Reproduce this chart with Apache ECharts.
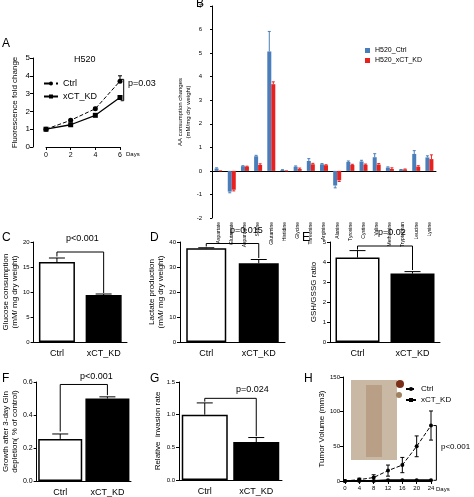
<!DOCTYPE html>
<html><head><meta charset="utf-8">
<script src="https://cdn.jsdelivr.net/npm/echarts@6/dist/echarts.min.js"></script>
<style>html,body{margin:0;padding:0;background:#fff}#c{width:474px;height:497px}</style>
</head><body><div id="c"></div>
<script>
// ---- Data ----
const daysA = [0, 2, 4, 6];
const ctrlA = [1.0, 1.5, 2.15, 3.7];
const ctrlAErr = [0.05, 0.06, 0.08, 0.3];
const kdA = [1.0, 1.25, 1.78, 2.78];
const kdAErr = [0.05, 0.06, 0.1, 0.06];

const aminoAcids = ['Aspartate','Glutamate','Asparagine','Serine','Glutamine','Histidine','Glycine','Threonine','Arginine','Alanine','Tyrosine','Cystine','Valine','Methionine','Tryptophan','Leucine','Lysine'];
const aaCtrl = [0.1,-0.88,0.2,0.62,5.07,0.04,0.18,0.42,0.28,-0.62,0.38,0.4,0.58,0.14,0.05,0.72,0.57];
const aaCtrlErr = [0.03,0.05,0.02,0.04,0.85,0.01,0.03,0.1,0.03,0.1,0.04,0.05,0.15,0.03,0.01,0.14,0.07];
const aaKD = [0.0,-0.8,0.18,0.25,3.68,0.0,0.08,0.28,0.24,-0.4,0.25,0.26,0.27,0.08,0.06,0.18,0.5];
const aaKDErr = [0.0,0.05,0.02,0.05,0.1,0.0,0.04,0.04,0.02,0.05,0.03,0.03,0.04,0.05,0.02,0.04,0.18];

const groups = ['Ctrl','xCT_KD'];
const glucose = [16.0, 9.4], glucoseErr = [0.8, 0.2];
const lactate = [37.5, 31.5], lactateErr = [0.2, 1.5];
const gsh = [4.22, 3.42], gshErr = [0.35, 0.1];
const glnGrowth = [0.255, 0.5], glnGrowthErr = [0.03, 0.01];
const invasion = [1.0, 0.58], invasionErr = [0.18, 0.07];

const daysH = [0, 4, 8, 12, 16, 20, 24];
const tumorCtrl = [0, 2, 5, 15, 23, 50, 80];
const tumorCtrlErr = [1, 2, 4, 8, 11, 15, 21];
const tumorKD = [0, 0, 0, 1, 1, 1, 1];
const tumorKDErr = [0.5, 0.5, 0.5, 1, 1, 1, 1];

// ---- Chart ----
const FF = 'Liberation Sans';
const chart = echarts.init(document.getElementById('c'));
const grids = [], xAxes = [], yAxes = [], series = [], graphics = [];
const axisLine = {show:true, onZero:false, lineStyle:{color:'#000', width:1}};

function errRender(offsetPx, capW, color) {
  return function(params, api) {
    const x = api.value(0), v = api.value(1), e = api.value(2);
    const p0 = api.coord([x, v]);
    const dir = v < 0 ? -1 : 1;
    const p1 = api.coord([x, v + dir * e]);
    const cx = p0[0] + offsetPx;
    const st = {stroke: color, lineWidth: 1};
    return {type:'group', children:[
      {type:'line', shape:{x1:cx, y1:p0[1], x2:cx, y2:p1[1]}, style:st},
      {type:'line', shape:{x1:cx-capW, y1:p1[1], x2:cx+capW, y2:p1[1]}, style:st}
    ]};
  };
}
function bracketRender(params, api) {
  const a = api.coord([api.value(0), api.value(1)]);
  const b = api.coord([api.value(0), api.value(4)]);
  const c = api.coord([api.value(2), api.value(4)]);
  const d = api.coord([api.value(2), api.value(3)]);
  return {type:'polyline', shape:{points:[a,b,c,d]}, style:{stroke:'#000', fill:null, lineWidth:1}};
}
function vBracketRender(params, api) {
  const lo = api.coord([api.value(0), api.value(1)]);
  const hi = api.coord([api.value(0), api.value(2)]);
  const dx = api.value(3);
  return {type:'polyline', shape:{points:[[lo[0]-dx, lo[1]],[lo[0], lo[1]],[hi[0], hi[1]],[hi[0]-dx, hi[1]]]}, style:{stroke:'#000', fill:null, lineWidth:1}};
}

// Panel A
grids.push({left:46, top:58, width:74, height:89});
xAxes.push({gridIndex:0, type:'value', min:0, max:6, interval:2, axisLine, axisTick:{show:true,length:3,lineStyle:{color:'#000'}}, splitLine:{show:false}, axisLabel:{fontSize:7, color:'#000', fontFamily:FF, margin:5}});
yAxes.push({gridIndex:0, type:'value', min:0, max:5, interval:1, offset:13, axisLine, axisTick:{show:true,length:3,lineStyle:{color:'#000'}}, splitLine:{show:false}, axisLabel:{fontSize:8, color:'#000', fontFamily:FF, margin:3}, name:'Fluorescence fold change', nameLocation:'middle', nameGap:14, nameTextStyle:{fontSize:8, fontFamily:FF, color:'#000'}});
series.push({type:'line', name:'Ctrl', xAxisIndex:0, yAxisIndex:0, data:daysA.map((d,i)=>[d,ctrlA[i]]), symbol:'circle', symbolSize:5, lineStyle:{type:'dashed', color:'#000', width:1}, itemStyle:{color:'#000'}});
series.push({type:'line', name:'xCT_KD', xAxisIndex:0, yAxisIndex:0, data:daysA.map((d,i)=>[d,kdA[i]]), symbol:'rect', symbolSize:5, lineStyle:{color:'#000', width:1.3}, itemStyle:{color:'#000'}});
series.push({type:'custom', xAxisIndex:0, yAxisIndex:0, renderItem:errRender(0,2,'#000'), data:daysA.map((d,i)=>[d,ctrlA[i],ctrlAErr[i]]), z:5});
series.push({type:'custom', xAxisIndex:0, yAxisIndex:0, renderItem:vBracketRender, data:[[6.3, 2.6, 3.8, 3]]});

// Panel B
grids.push({left:212, top:6, width:224, height:212});
xAxes.push({gridIndex:1, type:'category', data:aminoAcids, axisLine:{show:true, onZero:true, lineStyle:{color:'#000'}}, axisTick:{show:false}, axisLabel:{rotate:90, fontSize:5, color:'#000', fontFamily:FF, interval:0, margin:4}});
yAxes.push({gridIndex:1, type:'value', min:-2, max:7, interval:1, axisLine:{show:true, lineStyle:{color:'#000'}}, axisTick:{show:true, length:2, lineStyle:{color:'#000'}}, splitLine:{show:false}, axisLabel:{fontSize:6, color:'#000', fontFamily:FF, margin:10}, name:'AA consumption changes\n(mM/mg dry weight)', nameLocation:'middle', nameGap:16, nameTextStyle:{fontSize:6, fontFamily:FF, color:'#000', lineHeight:8}});
series.push({type:'bar', name:'H520_Ctrl', xAxisIndex:1, yAxisIndex:1, data:aaCtrl, barWidth:4, barGap:'0%', itemStyle:{color:'#4a7ebb'}});
series.push({type:'bar', name:'H520_xCT_KD', xAxisIndex:1, yAxisIndex:1, data:aaKD, barWidth:4, barGap:'0%', itemStyle:{color:'#e8201e'}});
series.push({type:'custom', xAxisIndex:1, yAxisIndex:1, renderItem:errRender(-2,1.5,'#4a7ebb'), data:aaCtrl.map((v,i)=>[i,v,aaCtrlErr[i]]), z:5});
series.push({type:'custom', xAxisIndex:1, yAxisIndex:1, renderItem:errRender(2,1.5,'#e8201e'), data:aaKD.map((v,i)=>[i,v,aaKDErr[i]]), z:5});

// Bar panels C-G
function barPanel(idx, g, vals, errs, max, interval, ytitle, barW, bracket, labelFmt, nameGap, lblSize) {
  grids.push(g);
  xAxes.push({gridIndex:idx, type:'category', data:groups, axisLine:{show:true, lineStyle:{color:'#000'}}, axisTick:{show:false}, axisLabel:{fontSize:9, color:'#000', fontFamily:FF, margin:7}});
  yAxes.push({gridIndex:idx, type:'value', min:0, max, interval, axisLine:{show:true, lineStyle:{color:'#000'}}, axisTick:{show:true, length:3, lineStyle:{color:'#000'}}, splitLine:{show:false}, axisLabel:{fontSize:lblSize||6, color:'#000', fontFamily:FF, margin:4, formatter:labelFmt}, name:ytitle, nameLocation:'middle', nameGap, nameTextStyle:{fontSize:8, fontFamily:FF, color:'#000', lineHeight:9}});
  series.push({type:'bar', xAxisIndex:idx, yAxisIndex:idx, barWidth:barW, data:[
    {value:vals[0], itemStyle:{color:'#fff', borderColor:'#000', borderWidth:1.5}},
    {value:vals[1], itemStyle:{color:'#000', borderColor:'#000', borderWidth:1.5}}]});
  series.push({type:'custom', xAxisIndex:idx, yAxisIndex:idx, renderItem:errRender(0,8,'#000'), data:vals.map((v,i)=>[i,v,errs[i]]), z:5});
  series.push({type:'custom', xAxisIndex:idx, yAxisIndex:idx, renderItem:bracketRender, data:[bracket], z:6});
}
barPanel(2, {left:32, top:242, width:95, height:100}, glucose, glucoseErr, 20, 5, 'Glucose consumption\n(mM/ mg dry weight)', 36, [0,17.1,1,9.8,18.0], null, 14);
barPanel(3, {left:180, top:242, width:105, height:100}, lactate, lactateErr, 40, 10, 'Lactate production\n(mM/ mg dry weight)', 40, [0,38.2,1,33.6,39.4], null, 14);
barPanel(4, {left:330, top:242, width:110, height:100}, gsh, gshErr, 5, 1, 'GSH/GSSG ratio', 44, [0,4.62,1,3.6,4.8], null, 10);
barPanel(5, {left:31, top:382, width:100, height:101}, glnGrowth, glnGrowthErr, 0.6, 0.2, 'Growth after 3-day Gln\ndepletion( % of control)', 44, [0,0.3,1,0.52,0.585], v=>v.toFixed(1), 17, 7);
barPanel(6, {left:179, top:382, width:103, height:98}, invasion, invasionErr, 1.5, 0.5, 'Relative  invasion rate', 46, [0,1.2,1,0.67,1.25], v=>v.toFixed(1), 14);

// Panel H
grids.push({left:345, top:377, width:86, height:104});
xAxes.push({gridIndex:7, type:'value', min:0, max:24, interval:4, axisLine, axisTick:{show:true,length:3,lineStyle:{color:'#000'}}, splitLine:{show:false}, axisLabel:{fontSize:6, color:'#000', fontFamily:FF, margin:4}});
yAxes.push({gridIndex:7, type:'value', min:0, max:150, interval:50, offset:2, axisLine, axisTick:{show:true,length:3,lineStyle:{color:'#000'}}, splitLine:{show:false}, axisLabel:{fontSize:6, color:'#000', fontFamily:FF, margin:3}, name:'Tumor Volume (mm3)', nameLocation:'middle', nameGap:14, nameTextStyle:{fontSize:8, fontFamily:FF, color:'#000'}});
series.push({type:'line', name:'Ctrl', xAxisIndex:7, yAxisIndex:7, data:daysH.map((d,i)=>[d,tumorCtrl[i]]), symbol:'circle', symbolSize:4, lineStyle:{type:'dashed', color:'#000', width:1}, itemStyle:{color:'#000'}});
series.push({type:'line', name:'xCT_KD', xAxisIndex:7, yAxisIndex:7, data:daysH.map((d,i)=>[d,tumorKD[i]]), symbol:'circle', symbolSize:4, lineStyle:{color:'#000', width:2}, itemStyle:{color:'#000'}});
series.push({type:'custom', xAxisIndex:7, yAxisIndex:7, renderItem:(p,api)=>{
  const x=api.value(0), v=api.value(1), e=api.value(2);
  const lo=api.coord([x,v-e]), hi=api.coord([x,v+e]); const st={stroke:'#000',lineWidth:1};
  return {type:'group',children:[{type:'line',shape:{x1:lo[0],y1:lo[1],x2:hi[0],y2:hi[1]},style:st},{type:'line',shape:{x1:hi[0]-2,y1:hi[1],x2:hi[0]+2,y2:hi[1]},style:st},{type:'line',shape:{x1:lo[0]-2,y1:lo[1],x2:lo[0]+2,y2:lo[1]},style:st}]};
}, data:daysH.map((d,i)=>[d,tumorCtrl[i],tumorCtrlErr[i]]), z:5});
series.push({type:'custom', xAxisIndex:7, yAxisIndex:7, renderItem:vBracketRender, data:[[25.5, 1, 80, 3]]});

// texts
function txt(x,y,t,size,extra){graphics.push(Object.assign({type:'text', left:x, top:y, style:{text:t, fontSize:size, fontFamily:FF, fill:'#000'}, z:100}, extra||{}));}
txt(2,38,'A',12); txt(196,-2,'B',12); txt(2,232,'C',12); txt(150,232,'D',12); txt(302,232,'E',12);
txt(2,373,'F',12); txt(150,373,'G',12); txt(304,373,'H',12);
txt(74,55,'H520',9); txt(128,79,'p=0.03',9); txt(126,151,'Days',6);
txt(66,234,'p<0.001',9); txt(230,226,'p=0.015',9); txt(378,228,'p=0.02',9);
txt(80,372,'p<0.001',9); txt(236,385,'p=0.024',9); txt(441,443,'p<0.001',8); txt(436,486,'Days',6);
// photo placeholder (inset)
graphics.push({type:'rect', left:351, top:380, shape:{width:46, height:80}, style:{fill:'#c9b8a3'}, z:50});
graphics.push({type:'rect', left:366, top:385, shape:{width:16, height:72}, style:{fill:'#b89f86'}, z:51});
graphics.push({type:'circle', left:396, top:380, shape:{r:4}, style:{fill:'#7a3018'}, z:52});
graphics.push({type:'circle', left:396, top:392, shape:{r:3}, style:{fill:'#a08060'}, z:52});

chart.setOption({
  animation:false,
  grid:grids, xAxis:xAxes, yAxis:yAxes, series,
  legend:[
    {data:['Ctrl','xCT_KD'], left:38, top:74, orient:'vertical', itemWidth:14, itemHeight:5, itemGap:4, textStyle:{fontSize:9, fontFamily:FF, color:'#000'}},
    {data:['H520_Ctrl','H520_xCT_KD'], left:360, top:42, orient:'vertical', icon:'rect', itemWidth:5, itemHeight:5, itemGap:3, textStyle:{fontSize:7, fontFamily:FF, color:'#000'}},
    {data:['Ctrl','xCT_KD'], left:400, top:380, orient:'vertical', itemWidth:10, itemHeight:5, itemGap:3, textStyle:{fontSize:8, fontFamily:FF, color:'#000'}}
  ],
  graphic:graphics
});
</script></body></html>
